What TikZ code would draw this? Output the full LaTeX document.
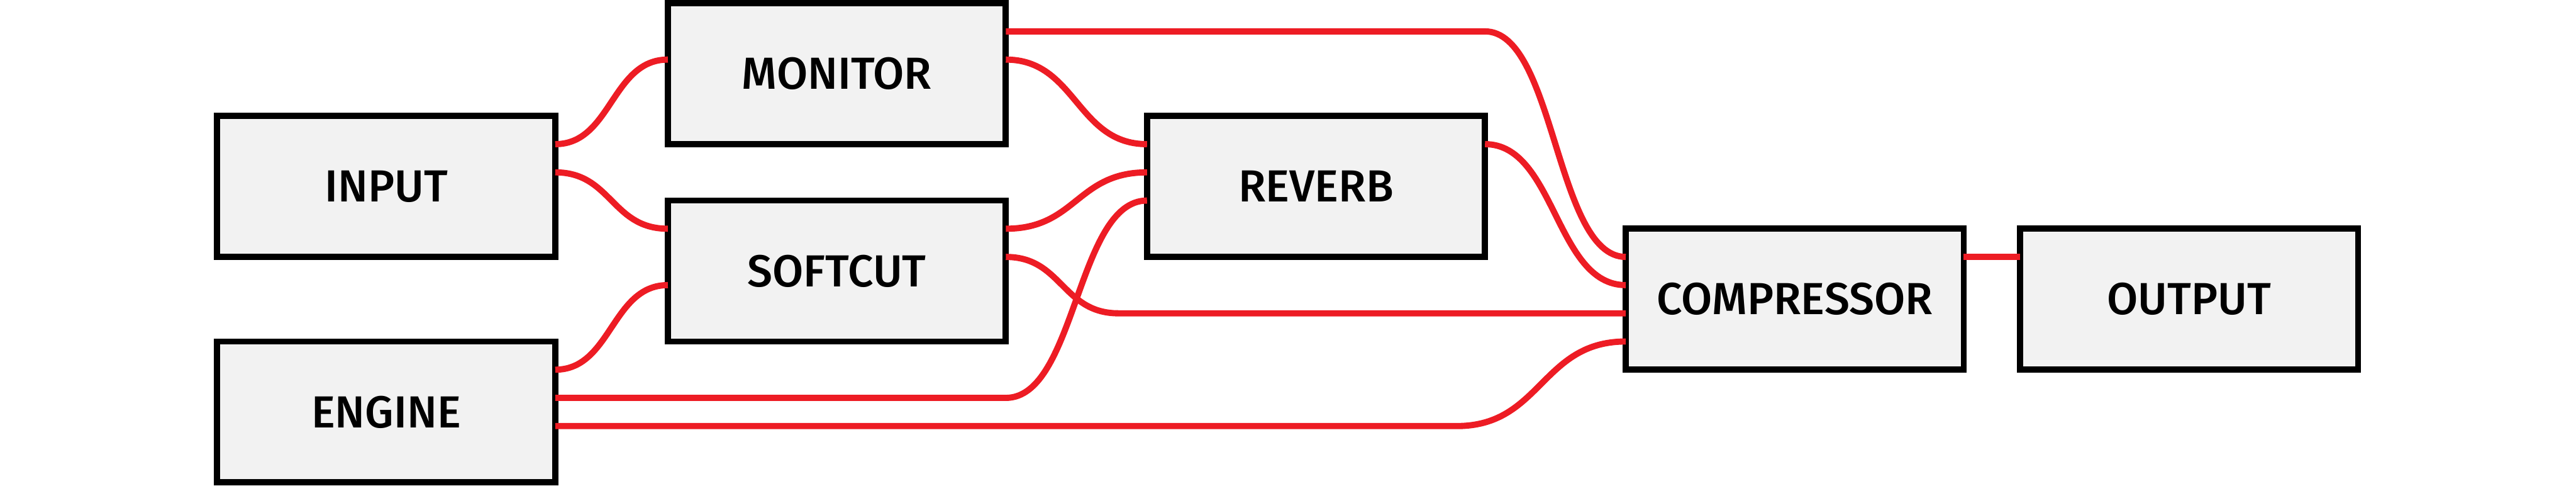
\documentclass[tikz,border=0pt]{standalone}
\usepackage{fontspec}
\setmainfont{Fira Sans}[UprightFont=* Medium]
\usetikzlibrary{positioning,calc}

\definecolor{wirered}{RGB}{237,28,36}
\definecolor{boxgray}{RGB}{242,242,242}

\begin{document}
\begin{tikzpicture}[
  box/.style={draw=black, fill=boxgray, line width=0.165cm, minimum width=9cm, minimum height=3.75cm, inner sep=0pt, outer sep=0pt, font=\fontsize{34}{40}\selectfont},
  wire/.style={draw=wirered, line width=0.165cm}
]
\useasboundingbox (0,0) rectangle (68.6,-12.92);

\node[box] (input) at (10.285,-4.96) {INPUT};
\node[box] (monitor) at (22.285,-1.96) {MONITOR};
\node[box, below=1.5cm of monitor] (softcut) {SOFTCUT};
\node[box, below=2.25cm of input] (engine) {ENGINE};
\node[box] (reverb) at (35.045,-4.96) {REVERB};
\node[box] (compressor) at (47.795,-7.96) {COMPRESSOR};
\node[box, right=1.5cm of compressor] (output) {OUTPUT};

% ports, 0.75cm apart down each side
\foreach \n in {input,monitor,softcut,engine,reverb,compressor,output}
  \foreach \k in {1,...,4} {
    \coordinate (\n-in\k) at ([yshift={-0.75cm*\k}]\n.north west);
    \coordinate (\n-out\k) at ([yshift={-0.75cm*\k}]\n.north east);
  }

\draw[wire] (input-out1) .. controls +(1.5,0) and +(-1.5,0) .. (monitor-in2);
\draw[wire] (input-out2) .. controls +(1.5,0) and +(-1.5,0) .. (softcut-in1);
\draw[wire] (engine-out1) .. controls +(1.5,0) and +(-1.5,0) .. (softcut-in3);

\draw[wire] (monitor-out1) -- (reverb.east |- monitor-out1) .. controls +(1.875,0) and +(-1.875,0) .. (compressor-in1);
\draw[wire] (monitor-out2) .. controls +(1.875,0) and +(-1.875,0) .. (reverb-in1);
\draw[wire] (softcut-out1) .. controls +(1.875,0) and +(-1.875,0) .. (reverb-in2);
\draw[wire] (softcut-out2) .. controls +(1.5,0) and +(-1.5,0) .. ($(softcut.east |- compressor-in3)+(3,0)$) -- (compressor-in3);
\draw[wire] (engine-out2) -- (softcut.east |- engine-out2) .. controls +(1.875,0) and +(-1.875,0) .. (reverb-in3);
\draw[wire] (engine-out3) -- ($(compressor.west |- engine-out3)+(-4.5,0)$) .. controls +(2.25,0) and +(-2.25,0) .. (compressor-in4);

\draw[wire] (reverb-out1) .. controls +(1.875,0) and +(-1.875,0) .. (compressor-in2);
\draw[wire] (compressor-out1) -- (output-in1);

\end{tikzpicture}
\end{document}
